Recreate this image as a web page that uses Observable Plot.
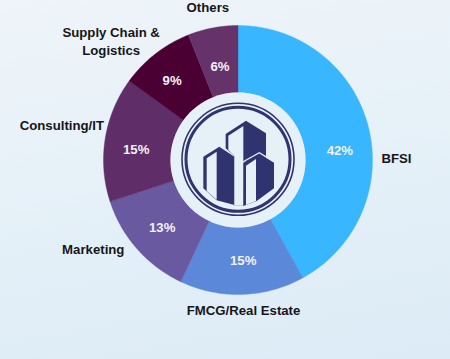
<!DOCTYPE html>
<html>
<head>
<meta charset="utf-8">
<script src="https://cdn.jsdelivr.net/npm/d3@7"></script>
<script src="https://cdn.jsdelivr.net/npm/@observablehq/plot@0.6"></script>
<style>
html,body{margin:0;padding:0;width:450px;height:359px;overflow:hidden;}
body{background:linear-gradient(170deg,#eef4f9 0%,#e6f1f8 45%,#dcebf6 100%);}
svg{display:block;background:transparent !important;}
</style>
</head>
<body>
<div id="chart"></div>
<script>
const categories = ["BFSI","FMCG/Real Estate","Marketing","Consulting/IT","Supply Chain &\nLogistics","Others"];
const shares = [42,15,13,15,9,6];
const colors = ["#38b6ff","#5c88da","#6959a1","#5f2d67","#4a0033","#653269"];

// Ring sizes, in degrees of colatitude on the azimuthal projection
const outer = 90, inner = 45.2, pctRing = 67.6, nameRing = 97;
const pixelsPerDegree = 134.5 / 90;
const centre = [237.5, 159.5];
const pctNudge = [[4,16],[2,0],[0,1],[-2,6],[-4,1],[1,6]];
const nameNudge = [[18,34],[1,5],[-36,-7],[-33,-13],[-38,-5],[-3,-11]];

const total = d3.sum(shares);
let run = 0;
const table = categories.map((name,i)=>{
  const a0 = run/total*360; run += shares[i]; const a1 = run/total*360;
  return {name, share:shares[i], a0, a1, mid:(a0+a1)/2, i};
});
const lon = a => 180 - a;
const wedges = table.map(s=>{
  const n = Math.ceil(s.a1-s.a0);
  const angles = d3.range(n+1).map(k=>s.a0+(s.a1-s.a0)*k/n);
  const ring = [...angles.map(a=>[lon(a),90-outer]), ...angles.slice().reverse().map(a=>[lon(a),90-inner])];
  ring.push(ring[0]);
  return {type:"Feature",properties:{name:s.name},geometry:{type:"Polygon",coordinates:[ring]}};
});
const font = "'Liberation Sans',Arial,sans-serif";
const ink = "#2f3470";
const paper = "#e6f0f7";

function building(){
  const g = d3.create("svg:g").attr("transform",`translate(190,115) scale(${1/3})`);
  const shapes = [
    ["M40,125L88,95L133,125L133,270L80,256L40,220Z",ink],
    ["M50,130L80,110L80,254L50,228Z",paper],
    ["M107,57L168,17L228,55L228,130L160,140L160,272L133,272L133,122L107,100Z",ink],
    ["M115,62L160,33L160,272L133,272L133,122L115,105Z",paper],
    ["M160,143L208,116L252,143L252,220L200,258L160,273Z",ink],
    ["M168,152L198,132L198,258L168,270Z",paper]
  ];
  for (const [d,f] of shapes) g.append("path").attr("d",d).attr("fill",f);
  g.append("path").attr("d","M158,141L208,113L232,128").attr("fill","none").attr("stroke",paper).attr("stroke-width",4);
  return g.node();
}

const plot = Plot.plot({
  width:450,height:359,margin:0,
  style:{background:"transparent",fontFamily:font},
  projection:()=>d3.geoAzimuthalEquidistant().rotate([0,-90]).scale(pixelsPerDegree*180/Math.PI).translate(centre),
  color:{domain:categories,range:colors},
  marks:[
    Plot.geo(wedges,{fill:d=>d.properties.name,stroke:d=>d.properties.name,strokeWidth:0.4}),
    Plot.dot([0],{x:()=>0,y:()=>90,r:67.5,fill:paper}),
    Plot.dot([0],{x:()=>0,y:()=>90,dy:-0.7,r:56,stroke:ink,strokeWidth:1.6,fill:"none"}),
    Plot.dot([0],{x:()=>0,y:()=>90,dy:-0.7,r:52,stroke:ink,strokeWidth:3,fill:"none"}),
    building,
    ...table.map((s,i)=>Plot.text([s],{
      x:d=>lon(d.mid),y:()=>90-pctRing,text:d=>d.share+"%",
      dx:pctNudge[i][0],dy:pctNudge[i][1],
      fill:"#f4f1f6",fontSize:13.2,fontWeight:700
    })),
    ...table.map((s,i)=>Plot.text([s],{
      x:d=>lon(d.mid),y:()=>90-nameRing,text:d=>d.name,
      dx:nameNudge[i][0],dy:nameNudge[i][1],
      fill:"#17151a",fontSize:13.2,fontWeight:700,lineHeight:1.3
    }))
  ]
});
document.getElementById("chart").appendChild(plot);
</script>
</body>
</html>
